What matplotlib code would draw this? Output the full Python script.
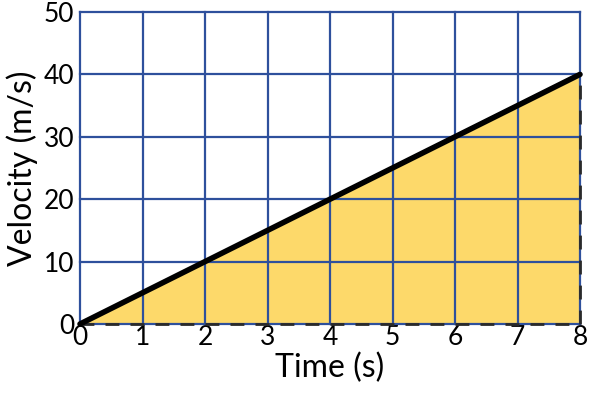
import matplotlib
matplotlib.use("Agg")
import matplotlib.pyplot as plt

time_s = [0, 8]
velocity = [0, 40]
x_ticks = [0, 1, 2, 3, 4, 5, 6, 7, 8]
y_ticks = [0, 10, 20, 30, 40, 50]

plt.rcParams['font.family'] = ['Lato', 'DejaVu Sans']
fig = plt.figure(figsize=(6, 3.93), dpi=100)
ax = fig.add_axes([80/600, 1-324/393, 500/600, 312/393])

grid_c = '#2e509c'
ax.fill_between(time_s, velocity, 0, color='#fdd96a', zorder=1, linewidth=0)
for x in x_ticks:
    ax.axvline(x, color=grid_c, lw=1.6, zorder=2, clip_on=False)
for y in y_ticks:
    ax.axhline(y, color=grid_c, lw=1.6, zorder=2, clip_on=False)
ax.plot([time_s[0], time_s[-1]], [0, 0], color='#2a2a2a', lw=2, ls=(0, (5, 4)), zorder=3, clip_on=False)
ax.plot([time_s[-1], time_s[-1]], [0, velocity[-1]], color='#2a2a2a', lw=2, ls=(0, (5, 4)), zorder=3, clip_on=False)
ax.plot(time_s, velocity, color='black', lw=4, zorder=4, solid_capstyle='round', clip_on=False)

ax.set_xlim(0, 8)
ax.set_ylim(0, 50)
ax.set_xticks(x_ticks)
ax.set_yticks(y_ticks)
ax.tick_params(axis='x', length=0, labelsize=19, pad=1)
ax.tick_params(axis='y', length=0, labelsize=19, pad=4)
for s in ax.spines.values():
    s.set_visible(False)
ax.set_xlabel('Time (s)', fontsize=23, labelpad=2)
ax.set_ylabel('Velocity (m/s)', fontsize=23, labelpad=4)
fig.savefig('out.png', dpi=100)
